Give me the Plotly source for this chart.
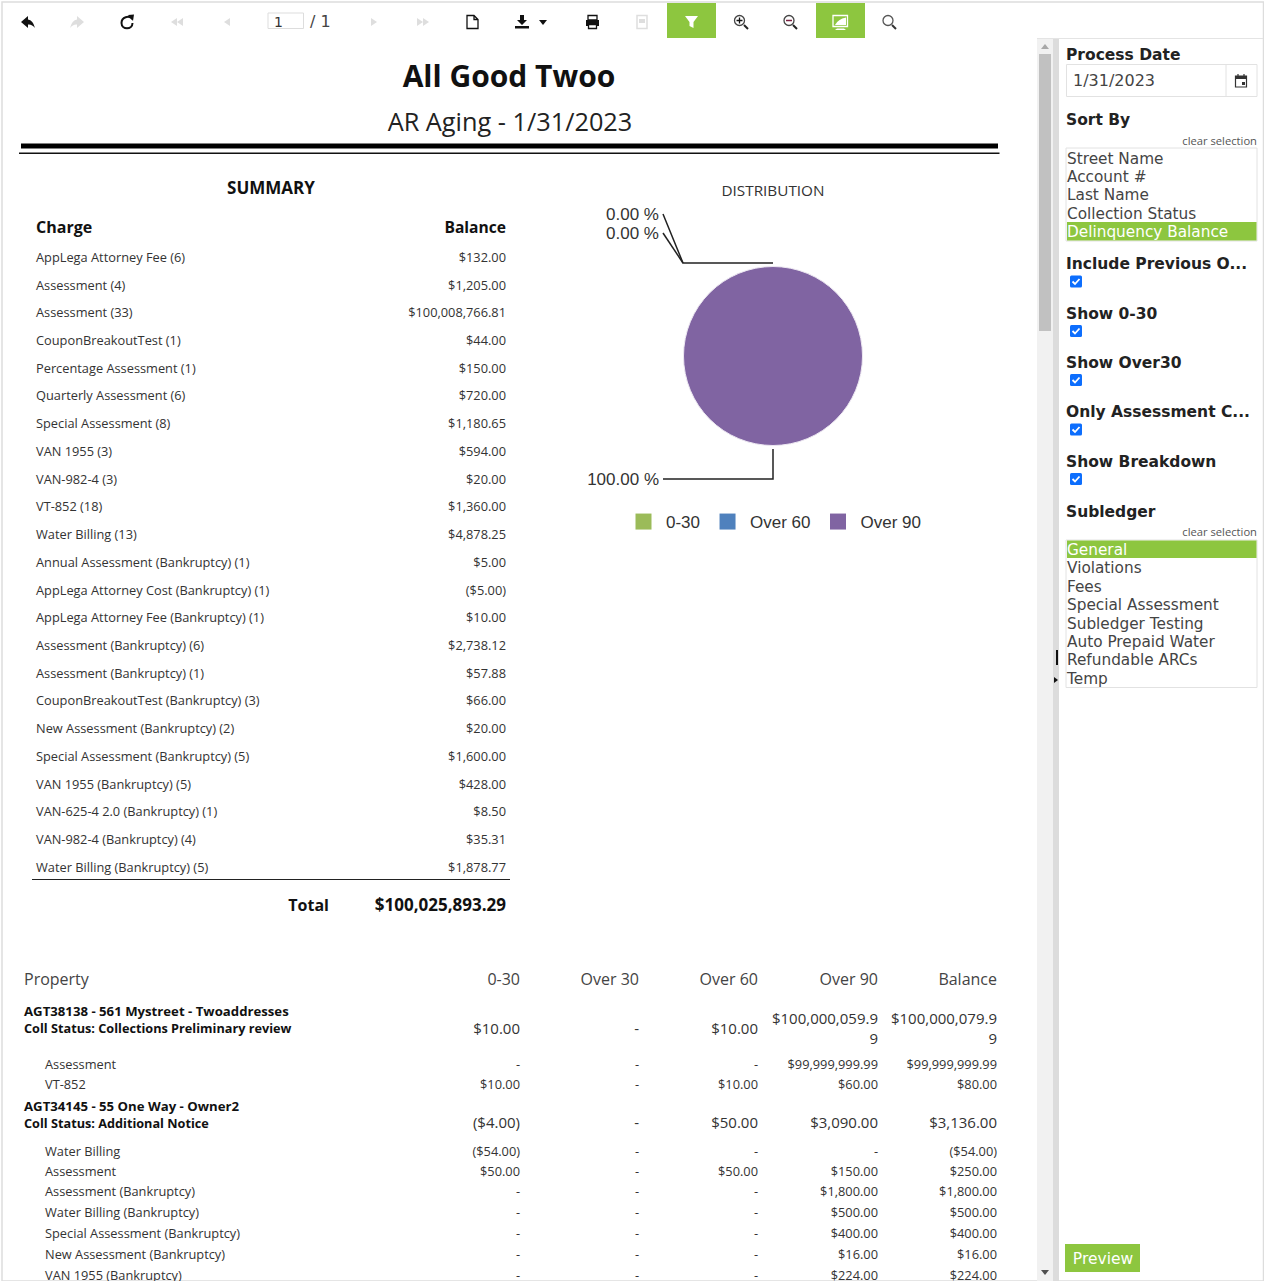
import plotly.graph_objects as go

# ---- chart data
pie_labels = ["0-30", "Over 60", "Over 90"]
pie_values = [0, 0, 100]
pie_colors = ["#9BBB59", "#4F81BD", "#8064A2"]

# ---- summary table
charges = [
    "AppLega Attorney Fee (6)", "Assessment (4)", "Assessment (33)", "CouponBreakoutTest (1)",
    "Percentage Assessment (1)", "Quarterly Assessment (6)", "Special Assessment (8)", "VAN 1955 (3)",
    "VAN-982-4 (3)", "VT-852 (18)", "Water Billing (13)", "Annual Assessment (Bankruptcy) (1)",
    "AppLega Attorney Cost (Bankruptcy) (1)", "AppLega Attorney Fee (Bankruptcy) (1)",
    "Assessment (Bankruptcy) (6)", "Assessment (Bankruptcy) (1)", "CouponBreakoutTest (Bankruptcy) (3)",
    "New Assessment (Bankruptcy) (2)", "Special Assessment (Bankruptcy) (5)", "VAN 1955 (Bankruptcy) (5)",
    "VAN-625-4 2.0 (Bankruptcy) (1)", "VAN-982-4 (Bankruptcy) (4)", "Water Billing (Bankruptcy) (5)",
]
balances = [
    "$132.00", "$1,205.00", "$100,008,766.81", "$44.00", "$150.00", "$720.00", "$1,180.65", "$594.00",
    "$20.00", "$1,360.00", "$4,878.25", "$5.00", "($5.00)", "$10.00", "$2,738.12", "$57.88", "$66.00",
    "$20.00", "$1,600.00", "$428.00", "$8.50", "$35.31", "$1,878.77",
]
total_balance = "$100,025,893.29"

# ---- property table
columns = ["0-30", "Over 30", "Over 60", "Over 90", "Balance"]
group_names = [
    ["AGT38138 - 561 Mystreet - Twoaddresses", "Coll Status: Collections Preliminary review"],
    ["AGT34145 - 55 One Way - Owner2", "Coll Status: Additional Notice"],
]
group_values = [
    ["$10.00", "-", "$10.00", "$100,000,059.9<br>9", "$100,000,079.9<br>9"],
    ["($4.00)", "-", "$50.00", "$3,090.00", "$3,136.00"],
]
detail_names = [
    "Assessment", "VT-852", "Water Billing", "Assessment", "Assessment (Bankruptcy)",
    "Water Billing (Bankruptcy)", "Special Assessment (Bankruptcy)", "New Assessment (Bankruptcy)",
    "VAN 1955 (Bankruptcy)",
]
detail_values = [
    ["-", "-", "-", "$99,999,999.99", "$99,999,999.99"],
    ["$10.00", "-", "$10.00", "$60.00", "$80.00"],
    ["($54.00)", "-", "-", "-", "($54.00)"],
    ["$50.00", "-", "$50.00", "$150.00", "$250.00"],
    ["-", "-", "-", "$1,800.00", "$1,800.00"],
    ["-", "-", "-", "$500.00", "$500.00"],
    ["-", "-", "-", "$400.00", "$400.00"],
    ["-", "-", "-", "$16.00", "$16.00"],
    ["-", "-", "-", "$224.00", "$224.00"],
]

# ---- side panel
sort_options = ["Street Name", "Account #", "Last Name", "Collection Status", "Delinquency Balance"]
subledgers = ["General", "Violations", "Fees", "Special Assessment", "Subledger Testing",
              "Auto Prepaid Water", "Refundable ARCs", "Temp"]
check_labels = ["Include Previous O...", "Show 0-30", "Show Over30", "Only Assessment C...", "Show Breakdown"]

# ---- layout
W, H = 1264, 1284
PLOT_H = 1281
GREEN = "#8DC63F"
REPORT_FONT = "Open Sans"
PANEL_FONT = "DejaVu Sans"
CHART_FONT = "Liberation Sans"
INK = "#333333"
DISABLED = "#DEDEDE"
TEXT_DY = 2  # text sits a little high on its anchor

fig = go.Figure()
shapes = []


def put(xs, ys, texts, pos="middle right", size=12.8, color=INK, family=REPORT_FONT, bold=False):
    fig.add_trace(go.Scatter(
        x=xs, y=[y + TEXT_DY for y in ys], text=texts, mode="text", textposition=pos, cliponaxis=True,
        textfont=dict(size=size, color=color, family=family, weight="bold" if bold else "normal"),
        hoverinfo="skip", showlegend=False,
    ))


def rect(x0, y0, x1, y1, fill=None, line=None, width=1):
    shapes.append(dict(type="rect", x0=x0, y0=y0, x1=x1, y1=y1, fillcolor=fill or "rgba(0,0,0,0)",
                       line=dict(color=line or "rgba(0,0,0,0)", width=width if line else 0)))


def path(d, fill=None, line=None, width=1):
    shapes.append(dict(type="path", path=d, fillcolor=fill or "rgba(0,0,0,0)",
                       line=dict(color=line or "rgba(0,0,0,0)", width=width if line else 0)))


# frame and panel chrome
rect(2, 2, 1263.5, PLOT_H, None, "#DDDDDD", 1.5)
rect(1037, 39, 1053, PLOT_H, "#F1F1F1")
rect(1053, 39, 1059, PLOT_H, "#DCDCDC")
rect(1039, 54, 1051, 331, "#C1C1C1")
path("M1041,49 L1045,44 L1049,49 Z", "#A8A8A8")
path("M1041,1270 L1045,1275 L1049,1270 Z", "#505050")
rect(1056, 650, 1058, 665, "#111111")
path("M1054,677 L1058,680 L1054,683 Z", "#111111")
shapes.append(dict(type="line", x0=1037, x1=1263, y0=38.5, y1=38.5, line=dict(color="#E4E4E4", width=1)))

# toolbar buttons
rect(667, 3, 716, 38, GREEN)
rect(816, 3, 865, 38, GREEN)
path("M21,22 L28,16 L28,19.5 Q33,20 35,28 Q32,24 28,24.5 L28,28 Z", "#111111")
path("M84,22 L77,16 L77,19.5 Q72,20 70,28 Q73,24 77,24.5 L77,28 Z", DISABLED)
path("M132.5,19 C129,15 121.5,17 121.5,23 C121.5,30 132.5,30 132.5,23", None, "#111111", 2)
path("M128,15 L134,14.5 L133,21 Z", "#111111")
for d in ["M177,18 L171,22 L177,26 Z", "M183,18 L177,22 L183,26 Z", "M230,18 L224,22 L230,26 Z",
          "M371,18 L377,22 L371,26 Z", "M417,18 L423,22 L417,26 Z", "M423,18 L429,22 L423,26 Z"]:
    path(d, DISABLED)
rect(268, 13, 303.5, 28.5, "#FFFFFF", "#DDDDDD", 1)
path("M467,15.5 L474,15.5 L478,19.5 L478,28.5 L467,28.5 Z M474,15.5 L474,19.5 L478,19.5", None, "#111111", 1.3)
path("M520,15 L524,15 L524,20 L527,20 L522,25 L517,20 L520,20 Z", "#111111")
rect(515, 26, 529, 28.5, "#111111")
path("M539,20 L547,20 L543,25 Z", "#111111")
path("M588,15.5 L597,15.5 L597,20 L588,20 Z", None, "#111111", 1.3)
path("M586,20 L599,20 L599,26 L597,26 L597,24 L588,24 L588,26 L586,26 Z", "#111111")
rect(588.5, 24.5, 596.5, 28.5, None, "#111111", 1.3)
rect(637, 15.5, 647, 28.5, None, DISABLED, 1.5)
rect(639, 19, 645, 23, DISABLED)
path("M685,16 L698,16 L693.5,22 L693.5,28 L689.5,26 L689.5,22 Z", "#FFFFFF")
path("M748,29 L744,25", None, "#222222", 2)
shapes.append(dict(type="circle", x0=734.5, x1=744.5, y0=15.5, y1=25.5, line=dict(color="#444444", width=1.3)))
path("M736.5,20.5 H742.5 M739.5,17.5 V23.5", None, "#111111", 1.3)
path("M797,29 L793,25", None, "#222222", 2)
shapes.append(dict(type="circle", x0=784, x1=794, y0=15.5, y1=25.5, line=dict(color="#444444", width=1.3)))
path("M786,20.5 H792", None, "#7A2040", 1.5)
rect(833, 15.5, 847.5, 26.5, None, "#FFFFFF", 1.3)
path("M835,25 Q838,19 846,17.5 L846,25 Z", "#FFFFFF")
path("M837,28.5 H844 L846,30 H835 Z", "#FFFFFF")
path("M896,29 L892,25", None, "#333333", 2)
shapes.append(dict(type="circle", x0=883, x1=893, y0=15.5, y1=25.5, line=dict(color="#555555", width=1.3)))

put([274], [21], ["1"], size=14, family=PANEL_FONT)
put([310], [21], ["/ 1"], size=16, color="#444444", family=PANEL_FONT)

# titles
put([509], [77], ["All Good Twoo"], "middle center", 30, "#111111", bold=True)
put([510], [123], ["AR Aging - 1/31/2023"], "middle center", 25.3, "#222222")
rect(21, 143.5, 998, 148.5, "#000000")
rect(19, 152.5, 999.5, 154, "#111111")

# summary table
row_y = [256.6 + i * 27.73 for i in range(len(charges))]
put([271], [188], ["SUMMARY"], "middle center", 17, "#111111", bold=True)
put([36], [227], ["Charge"], size=16, color="#111111", bold=True)
put([506], [227], ["Balance"], "middle left", 15.6, "#111111", bold=True)
put([36] * len(charges), row_y, charges)
put([506] * len(balances), row_y, balances, "middle left")
rect(32, 879, 510, 880, "#222222")
put([329], [905], ["Total"], "middle left", 16, "#111111", bold=True)
put([506], [905], [total_balance], "middle left", 17, "#111111", bold=True)

# property table
col_x = [520, 639, 758, 878, 997]
group_y = [1028, 1122]
group_label_y = [[1011, 1028], [1106, 1123]]
detail_y = [1064, 1084, 1151, 1171, 1191, 1212, 1233, 1254, 1275]
put([24], [979], ["Property"], size=16, color="#444444")
put(col_x, [979] * 5, columns, "middle left", 16, "#444444")
for names, ys, values, y in zip(group_names, group_label_y, group_values, group_y):
    put([24], ys[:1], names[:1], size=13.2, color="#111111", bold=True)
    put([24], ys[1:], names[1:], size=12.7, color="#111111", bold=True)
    put(col_x, [y] * 5, values, "middle left", 15)
put([45] * len(detail_names), detail_y, detail_names)
for name, y, values in zip(detail_names, detail_y, detail_values):
    put(col_x, [y] * 5, values, "middle left")

# pie chart with its outside labels and leaders
fig.add_trace(go.Pie(
    labels=pie_labels, values=pie_values, sort=False, direction="clockwise", textinfo="none",
    marker=dict(colors=pie_colors, line=dict(color="#EDE8F2", width=1)),
    domain=dict(x=[683.5 / W, 862.5 / W], y=[1 - 446 / PLOT_H, 1 - 266 / PLOT_H]),
    hoverinfo="skip", showlegend=False,
))
# legend swatches of the pie's own size are too small here, so the legend comes from square-marker traces
for label, color in zip(pie_labels, pie_colors):
    fig.add_trace(go.Scatter(x=[None], y=[None], mode="markers", name=label, hoverinfo="skip",
                             marker=dict(symbol="square", size=16, color=color)))
put([773], [190], ["DISTRIBUTION"], "middle center", 15.3, "#333333")
pie_total = sum(pie_values)
pie_pcts = [f"{v / pie_total * 100:.2f} %" for v in pie_values]
put([659, 659, 659], [214, 233, 479], pie_pcts, "middle left", 17, "#333333", CHART_FONT)
for xs, ys in [([773, 683, 663], [263, 263, 214]), ([683, 663], [263, 233]), ([773, 773, 663], [449, 479, 479])]:
    fig.add_trace(go.Scatter(x=xs, y=ys, mode="lines", line=dict(color="#222222", width=1.5),
                             hoverinfo="skip", showlegend=False))

# side panel
put([1066], [54], ["Process Date"], size=15.5, color="#222222", family=PANEL_FONT, bold=True)
rect(1066.5, 64.5, 1257, 96.5, "#FFFFFF", "#E2E2E2", 1)
shapes.append(dict(type="line", x0=1226, x1=1226, y0=64, y1=96, line=dict(color="#E2E2E2", width=1)))
put([1073], [80], ["1/31/2023"], size=16, color="#444444", family=PANEL_FONT)
rect(1235.5, 76, 1246.5, 87, None, "#333333", 1.2)
rect(1235.5, 76, 1246.5, 79, "#333333")
rect(1242, 82, 1245, 85, "#333333")
path("M1238,74 V77 M1244,74 V77", None, "#333333", 1.2)
put([1066], [119], ["Sort By"], size=15.5, color="#222222", family=PANEL_FONT, bold=True)
put([1257, 1257], [140, 531], ["clear selection"] * 2, "middle left", 11.2, "#555555", REPORT_FONT)

rect(1066, 148, 1257, 241, "#FFFFFF", "#E2E2E2", 1)
rect(1067, 222, 1256.5, 240.5, GREEN)
sort_y = [158, 176.3, 194.6, 213, 231.3]
put([1067] * 4, sort_y[:4], sort_options[:4], size=15.3, color="#444444", family=PANEL_FONT)
put([1067], sort_y[4:], sort_options[4:], size=15.3, color="#FFFFFF", family=PANEL_FONT)

label_y = [263, 313, 362, 411, 461]
box_y = [281.5, 331, 380, 429.5, 479]
put([1066] * len(check_labels), label_y, check_labels, size=15.5, color="#222222", family=PANEL_FONT, bold=True)
for y in box_y:
    path(f"M1071.5,{y - 6} H1080.5 Q1082,{y - 6} 1082,{y - 4.5} V{y + 4.5} Q1082,{y + 6} 1080.5,{y + 6} "
         f"H1071.5 Q1070,{y + 6} 1070,{y + 4.5} V{y - 4.5} Q1070,{y - 6} 1071.5,{y - 6} Z", "#0D6EFD")
    path(f"M1072.5,{y} L1075,{y + 2.5} L1079.5,{y - 2.5}", None, "#FFFFFF", 1.8)

put([1066], [511], ["Subledger"], size=15.5, color="#222222", family=PANEL_FONT, bold=True)
rect(1066, 540, 1257, 687.5, "#FFFFFF", "#E2E2E2", 1)
rect(1067, 540.5, 1256.5, 558, GREEN)
sub_y = [549, 567.5, 586, 604.3, 622.7, 641, 659.5, 678]
put([1067], sub_y[:1], subledgers[:1], size=15.3, color="#FFFFFF", family=PANEL_FONT)
put([1067] * 7, sub_y[1:], subledgers[1:], size=15.3, color="#444444", family=PANEL_FONT)

rect(1065, 1244, 1140, 1272, GREEN)
put([1103], [1258], ["Preview"], "middle center", 15.5, "#FFFFFF", PANEL_FONT)

fig.update_layout(
    width=W, height=H, margin=dict(l=0, r=0, t=0, b=H - PLOT_H),
    paper_bgcolor="white", plot_bgcolor="white", shapes=[dict(s, layer="below") for s in shapes],
    xaxis=dict(range=[0, W], visible=False, fixedrange=True),
    yaxis=dict(range=[PLOT_H, 0], visible=False, fixedrange=True),
    showlegend=True,
    legend=dict(orientation="h", x=621 / W, xanchor="left", y=1 - 522 / PLOT_H, yanchor="middle", itemwidth=35,
                font=dict(size=17, color="#333333", family=CHART_FONT), itemclick=False, itemdoubleclick=False),
)

fig.write_html("out.html", config={"displayModeBar": False},
               post_script="document.body.style.margin='0';document.body.style.overflow='hidden';")
